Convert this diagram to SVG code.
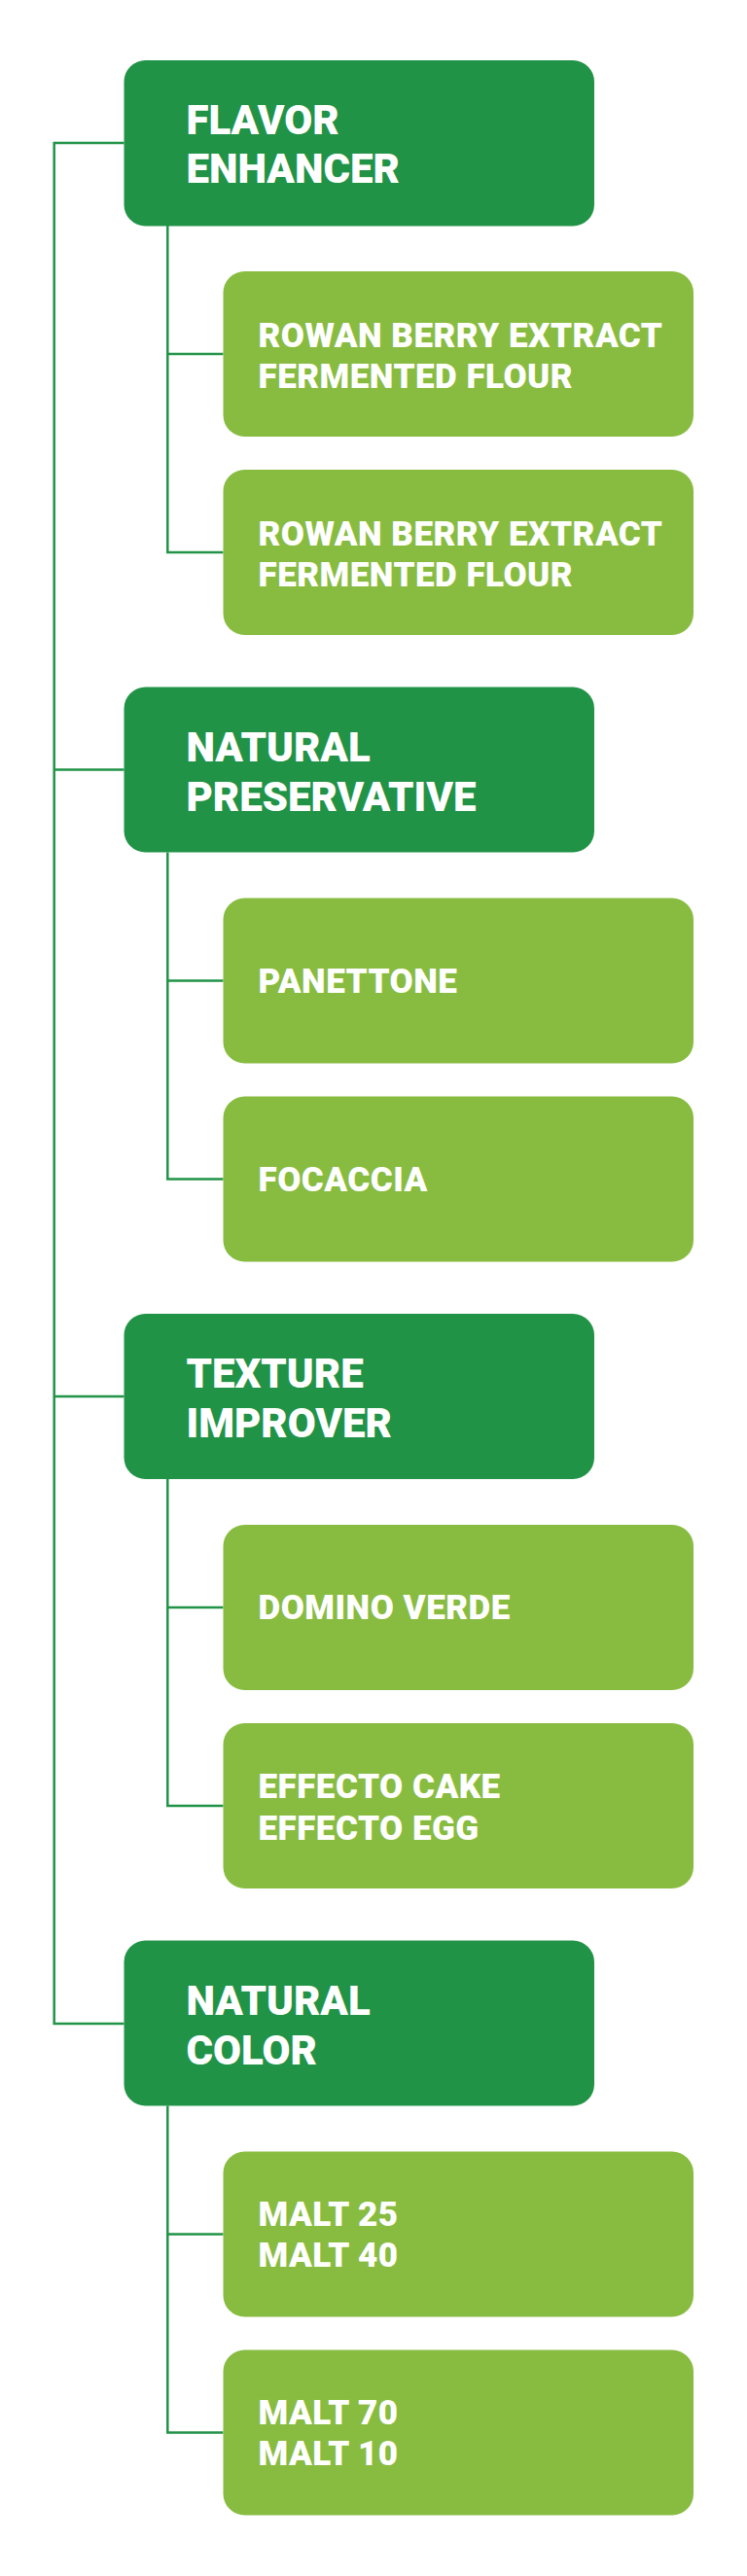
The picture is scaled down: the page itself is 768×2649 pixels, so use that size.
<svg xmlns="http://www.w3.org/2000/svg" width="768" height="2649" viewBox="0 0 768 2649">
<style>
.dark{fill:#219347}
.light{fill:#88bc41}
.t1{font-family:Roboto,"Liberation Sans",sans-serif;font-weight:900;font-size:42px;fill:#ffffff}
.t2{font-family:Roboto,"Liberation Sans",sans-serif;font-weight:900;font-size:35px;letter-spacing:0.5px;fill:#ffffff}
.ln{fill:none;stroke:#219347;stroke-width:2.5}
</style>
<rect width="768" height="2649" fill="#ffffff"/>
<g id="connectors">
<path class="ln" d="M127.5 147H55.7V2081H127.5"/>
<path class="ln" d="M55.7 791.5H127.5M55.7 1436H127.5"/>
<path class="ln" d="M172.3 232V568H229.5M172.3 364H229.5"/>
<path class="ln" d="M172.3 876.5V1212.5H229.5M172.3 1008.5H229.5"/>
<path class="ln" d="M172.3 1521V1857H229.5M172.3 1653H229.5"/>
<path class="ln" d="M172.3 2165.5V2501.5H229.5M172.3 2297.5H229.5"/>
</g>
<g id="n1"><rect class="dark" x="127.5" y="62" width="483.5" height="170.5" rx="22"/>
<text class="t1" x="191.5" y="138">FLAVOR</text><text class="t1" x="191.5" y="188">ENHANCER</text></g>
<g id="n1a"><rect class="light" x="229.5" y="279" width="483.5" height="170" rx="22"/>
<text class="t2" x="265.5" y="356.5">ROWAN BERRY EXTRACT</text><text class="t2" x="265.5" y="399">FERMENTED FLOUR</text></g>
<g id="n1b"><rect class="light" x="229.5" y="483" width="483.5" height="170" rx="22"/>
<text class="t2" x="265.5" y="560.5">ROWAN BERRY EXTRACT</text><text class="t2" x="265.5" y="603">FERMENTED FLOUR</text></g>

<g id="n2"><rect class="dark" x="127.5" y="706.5" width="483.5" height="170" rx="22"/>
<text class="t1" x="191.5" y="783">NATURAL</text><text class="t1" x="191.5" y="834">PRESERVATIVE</text></g>
<g id="n2a"><rect class="light" x="229.5" y="923.5" width="483.5" height="170" rx="22"/>
<text class="t2" x="265.5" y="1020.5">PANETTONE</text></g>
<g id="n2b"><rect class="light" x="229.5" y="1127.5" width="483.5" height="170" rx="22"/>
<text class="t2" x="265.5" y="1224.5">FOCACCIA</text></g>

<g id="n3"><rect class="dark" x="127.5" y="1351" width="483.5" height="170" rx="22"/>
<text class="t1" x="191.5" y="1427">TEXTURE</text><text class="t1" x="191.5" y="1478">IMPROVER</text></g>
<g id="n3a"><rect class="light" x="229.5" y="1568" width="483.5" height="170" rx="22"/>
<text class="t2" x="265.5" y="1665">DOMINO VERDE</text></g>
<g id="n3b"><rect class="light" x="229.5" y="1772" width="483.5" height="170" rx="22"/>
<text class="t2" x="265.5" y="1849">EFFECTO CAKE</text><text class="t2" x="265.5" y="1891.5">EFFECTO EGG</text></g>

<g id="n4"><rect class="dark" x="127.5" y="1995.5" width="483.5" height="170" rx="22"/>
<text class="t1" x="191.5" y="2071.5">NATURAL</text><text class="t1" x="191.5" y="2122.5">COLOR</text></g>
<g id="n4a"><rect class="light" x="229.5" y="2212.5" width="483.5" height="170" rx="22"/>
<text class="t2" x="265.5" y="2289">MALT 25</text><text class="t2" x="265.5" y="2331">MALT 40</text></g>
<g id="n4b"><rect class="light" x="229.5" y="2416.5" width="483.5" height="170" rx="22"/>
<text class="t2" x="265.5" y="2493">MALT 70</text><text class="t2" x="265.5" y="2535">MALT 10</text></g>
</svg>
